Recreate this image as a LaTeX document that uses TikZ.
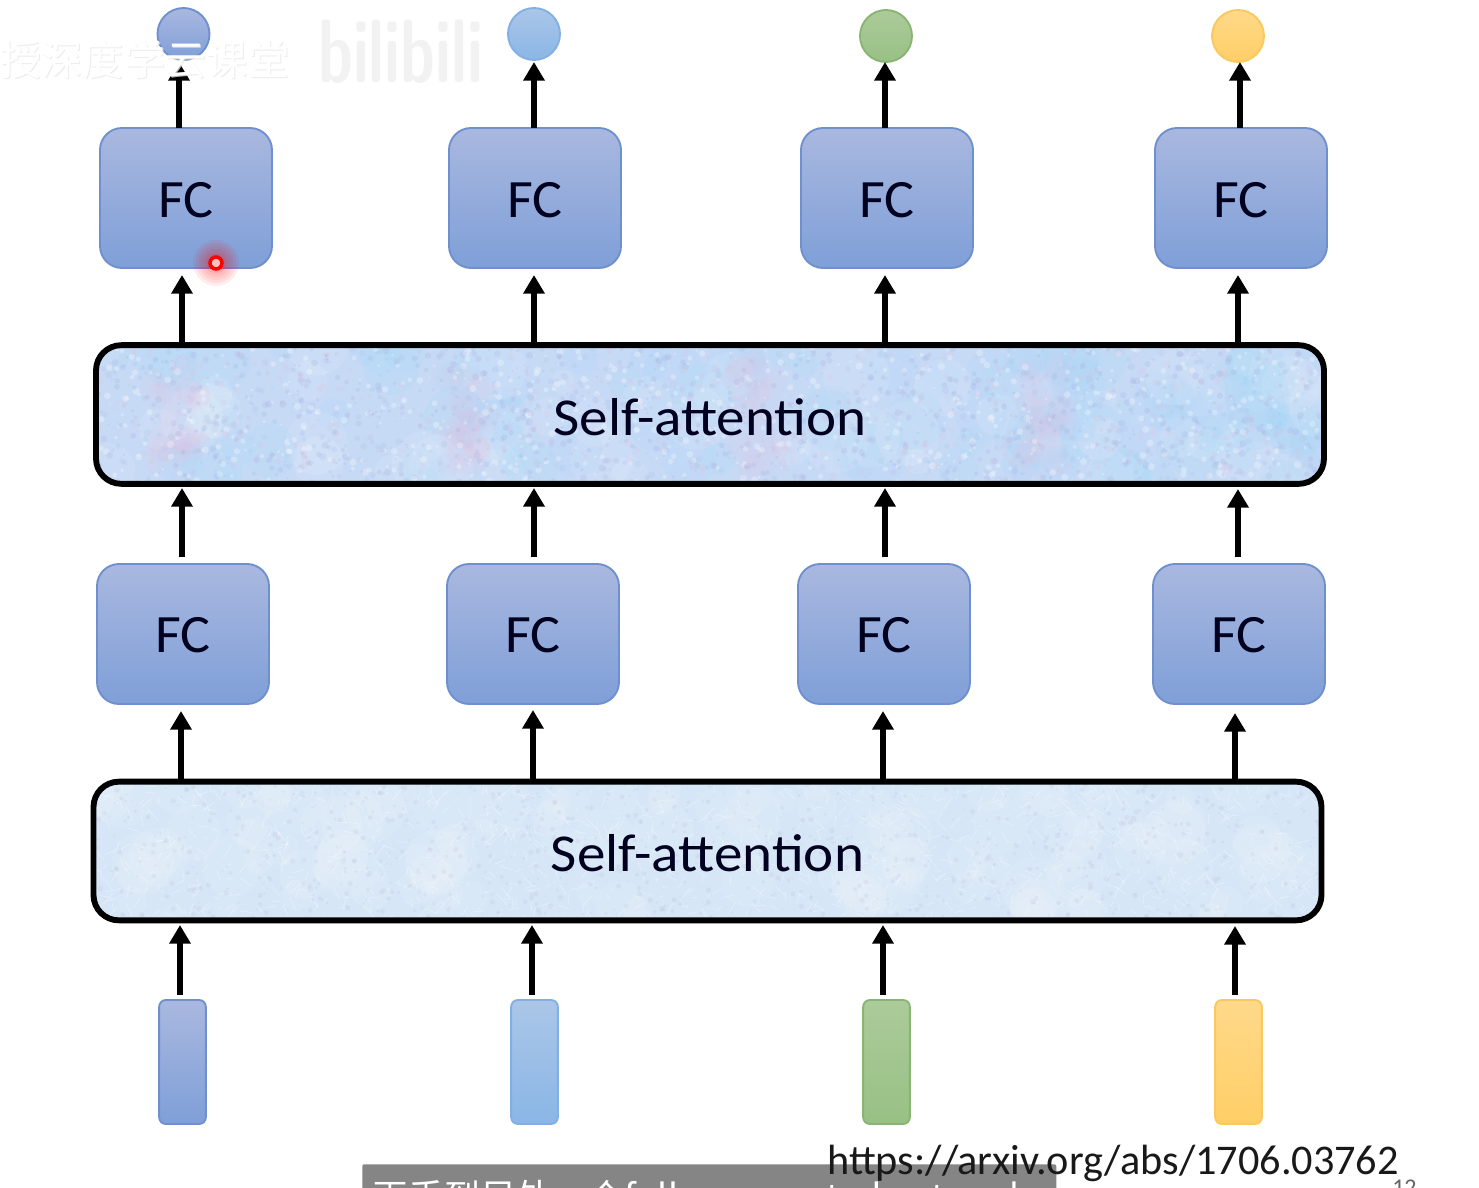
\documentclass[tikz,border=0pt]{standalone}
\usepackage{fontspec}
\setmainfont{Carlito}
\newfontfamily\cjkfont{Noto Sans CJK SC}
\newfontfamily\widefont[FakeStretch=1.07]{Carlito}
\newfontfamily\fcfont[FakeStretch=1.04]{Carlito}
\usetikzlibrary{arrows.meta,shadings}
\definecolor{fcTop}{HTML}{A9B8DF}
\definecolor{fcBot}{HTML}{7F9FD8}
\definecolor{fcEdge}{HTML}{6F8FCE}
\definecolor{ltTop}{HTML}{ABC6E8}
\definecolor{ltBot}{HTML}{8AB6E6}
\definecolor{ltEdge}{HTML}{82B0E4}
\definecolor{grTop}{HTML}{ACCB9A}
\definecolor{grBot}{HTML}{98C084}
\definecolor{grEdge}{HTML}{88B474}
\definecolor{yeTop}{HTML}{FFD98A}
\definecolor{yeBot}{HTML}{FFCE66}
\definecolor{yeEdge}{HTML}{F9C95E}
\definecolor{saOne}{HTML}{C6DAF6}
\definecolor{saTwo}{HTML}{D6E6F7}
\tikzset{
  x=0.75pt,y=-0.75pt,
  fcbox/.style={rectangle,rounded corners=16.5pt,minimum width=129pt,minimum height=105pt,inner sep=0pt,outer sep=0pt,
    top color=fcTop,bottom color=fcBot,draw=fcEdge,line width=1.4pt,font=\fcfont\fontsize{40.5}{40.5}\selectfont,text=black!88!blue,text depth=0pt},
  sabox/.style={rectangle,rounded corners=19pt,minimum width=921pt,minimum height=104pt,inner sep=0pt,outer sep=0pt,
    draw=black,line width=4.4pt,font=\widefont\fontsize{40}{40}\selectfont,text=black!88!blue,text height=31pt,text depth=0pt},
  dot/.style={circle,minimum size=39pt,inner sep=0pt,outer sep=0pt,line width=1.4pt},
  bar/.style={rectangle,rounded corners=5pt,minimum width=35pt,minimum height=93pt,inner sep=0pt,outer sep=0pt,line width=1.4pt},
  blue/.style={top color=fcTop,bottom color=fcBot,draw=fcEdge},
  light/.style={top color=ltTop,bottom color=ltBot,draw=ltEdge},
  green/.style={top color=grTop,bottom color=grBot,draw=grEdge},
  yellow/.style={top color=yeTop,bottom color=yeBot,draw=yeEdge},
  arr/.style={draw=black,line width=4.4pt,-{Triangle[length=14pt,width=15.5pt]}},
}
\begin{document}
\begin{tikzpicture}
\useasboundingbox (0,0) rectangle (1479,1188);
\fill[white] (0,0) rectangle (1479,1188);
\pgfmathsetseed{4711}
% textured fill of the upper self-attention block
\begin{scope}
  \clip[rounded corners=19pt] (96,345) rectangle (1324,484);
  \fill[saOne] (96,345) rectangle (1324,484);
  \foreach \i in {1,...,160}{
    \pgfmathsetmacro{\px}{96+rnd*1228}
    \pgfmathsetmacro{\py}{345+rnd*139}
    \pgfmathsetmacro{\pr}{12+rnd*22}
    \pgfmathtruncatemacro{\pc}{int(rnd*3)}
    \ifcase\pc\relax
      \fill[fill=cyan!45,fill opacity=.09] (\px,\py) circle[radius=\pr];
    \or
      \fill[fill=white,fill opacity=.1] (\px,\py) circle[radius=\pr];
    \else
      \fill[fill=blue!45!cyan!40,fill opacity=.09] (\px,\py) circle[radius=\pr];
    \fi
  }
  \foreach \cx in {175,465,755,1045}{
    \foreach \i in {1,...,30}{
      \pgfmathsetmacro{\px}{\cx+rnd*46-23}
      \pgfmathsetmacro{\py}{360+rnd*110}
      \fill[fill=magenta!30,fill opacity=.05] (\px,\py) circle[radius=13];
    }
  }
  \foreach \i in {1,...,2600}{
    \pgfmathsetmacro{\px}{96+rnd*1228}
    \pgfmathsetmacro{\py}{345+rnd*139}
    \pgfmathsetmacro{\pr}{1+rnd*2.6}
    \pgfmathtruncatemacro{\pc}{int(rnd*4)}
    \ifcase\pc\relax
      \fill[fill=cyan!50!blue!30,fill opacity=.3] (\px,\py) circle[radius=\pr];
    \or
      \fill[fill=white,fill opacity=.28] (\px,\py) circle[radius=\pr];
    \or
      \fill[fill=blue!40!gray!50,fill opacity=.2] (\px,\py) circle[radius=\pr];
    \else
      \fill[fill=violet!25,fill opacity=.2] (\px,\py) circle[radius=\pr];
    \fi
  }
\end{scope}
% textured fill of the lower self-attention block
\begin{scope}
  \clip[rounded corners=19pt] (94,782) rectangle (1321,920);
  \fill[saTwo] (94,782) rectangle (1321,920);
  \foreach \i in {1,...,120}{
    \pgfmathsetmacro{\px}{94+rnd*1227}
    \pgfmathsetmacro{\py}{782+rnd*138}
    \pgfmathsetmacro{\pr}{12+rnd*20}
    \fill[fill=white,fill opacity=.09] (\px,\py) circle[radius=\pr];
  }
  \foreach \i in {1,...,1100}{
    \pgfmathsetmacro{\px}{94+rnd*1227}
    \pgfmathsetmacro{\py}{782+rnd*138}
    \pgfmathsetmacro{\qx}{\px+rnd*24-12}
    \pgfmathsetmacro{\qy}{\py+rnd*24-12}
    \draw[white,line width=.5pt,opacity=.35] (\px,\py) -- (\qx,\qy);
  }
  \foreach \i in {1,...,1000}{
    \pgfmathsetmacro{\px}{94+rnd*1227}
    \pgfmathsetmacro{\py}{782+rnd*138}
    \pgfmathsetmacro{\pr}{.8+rnd*2}
    \fill[fill=blue!30!gray!45,fill opacity=.16] (\px,\py) circle[radius=\pr];
  }
\end{scope}
% blocks
\node[sabox] (saT) at (710,414.5) {Self-attention};
\node[sabox] (saB) at (707.5,851) {Self-attention};
\node[fcbox,text height=28.5pt] (ft1) at (186,198) {FC};
\node[fcbox,text height=28.5pt] (ft2) at (535,198) {FC};
\node[fcbox,text height=28.5pt] (ft3) at (887,198) {FC};
\node[fcbox,text height=28.5pt] (ft4) at (1241,198) {FC};
\node[fcbox,text height=27.5pt] (fb1) at (183,634) {FC};
\node[fcbox,text height=27.5pt] (fb2) at (533,634) {FC};
\node[fcbox,text height=27.5pt] (fb3) at (884,634) {FC};
\node[fcbox,text height=27.5pt] (fb4) at (1239,634) {FC};
\node[dot,blue] (o1) at (183.5,34) {};
\node[dot,light] (o2) at (534,34) {};
\node[dot,green] (o3) at (886,36) {};
\node[dot,yellow] (o4) at (1238,36) {};
\node[bar,blue] (i1) at (182.5,1062) {};
\node[bar,light] (i2) at (534.5,1062) {};
\node[bar,green] (i3) at (886.5,1062) {};
\node[bar,yellow] (i4) at (1238.5,1062) {};
% arrow x positions and tips (free ends)
\coordinate (a1) at (179,62);
\coordinate (a2) at (534,62);
\coordinate (a3) at (885,62);
\coordinate (a4) at (1240,62);
\coordinate (b1) at (182,275);
\coordinate (b2) at (534,275);
\coordinate (b3) at (885,275);
\coordinate (b4) at (1238,275);
\coordinate (c1) at (182,488);
\coordinate (c2) at (534,488);
\coordinate (c3) at (885,488);
\coordinate (c4) at (1238,489);
\coordinate (d1) at (181,711);
\coordinate (d2) at (533,710);
\coordinate (d3) at (883,711);
\coordinate (d4) at (1235,713);
\coordinate (e1) at (180,925);
\coordinate (e2) at (532,925);
\coordinate (e3) at (883,925);
\coordinate (e4) at (1235,926);
\foreach \k in {1,2,3,4}{
  \draw[arr] (ft\k.north -| a\k) -- (a\k);
  \draw[arr] (saT.north -| b\k) -- (b\k);
  \draw[arr,shorten <=5pt] (fb\k.north -| c\k) -- (c\k);
  \draw[arr] (saB.north -| d\k) -- (d\k);
  \draw[arr,shorten <=4pt] (i\k.north -| e\k) -- (e\k);
}
% laser pointer
\foreach \r in {23,20,17,14,11,9,7}{
  \fill[red,fill opacity=.07] (216,263) circle[radius=\r];
}
\node[circle,minimum size=9pt,inner sep=0pt,draw=red,line width=2.6pt,fill=red!25!white] (laser) at (216,263) {};
% watermark
\node[anchor=west,inner sep=0pt,text=black!9,opacity=.8,font=\cjkfont\fontsize{31}{31}\selectfont] (wmS) at (1,61) {授深度学云课堂};
\node[anchor=west,inner sep=0pt,text=white,font=\cjkfont\fontsize{31}{31}\selectfont] (wmA) at (0,60) {授深度学云课堂};
\node[anchor=west,inner sep=0pt,text=black!5,xscale=.93,yscale=1.35,font=\sffamily\bfseries\fontsize{50}{50}\selectfont] (wmB) at (318,52) {bilibili};
% caption bar and source
\begin{scope}
  \clip (0,0) rectangle (1479,1188);
  \node[rectangle,anchor=north west,fill=black!48,minimum width=520.5pt,minimum height=30pt,inner sep=0pt,rounded corners=1.5pt] (cap) at (362,1164) {};
  \node[anchor=base west,inner sep=0pt,text=white,font=\cjkfont\fontsize{27}{27}\selectfont] (capt) at (372,1210) {再丢到另外一个fully connected network};
  \node[anchor=base west,inner sep=0pt,text=black!60,font=\fontsize{18}{18}\selectfont] (page) at (1392,1195) {12};
  \node[anchor=base west,inner sep=0pt,text=black!90,font=\fontsize{31.7}{31.7}\selectfont] (url) at (827,1174) {https://arxiv.org/abs/1706.03762};
\end{scope}
\end{tikzpicture}
\end{document}
